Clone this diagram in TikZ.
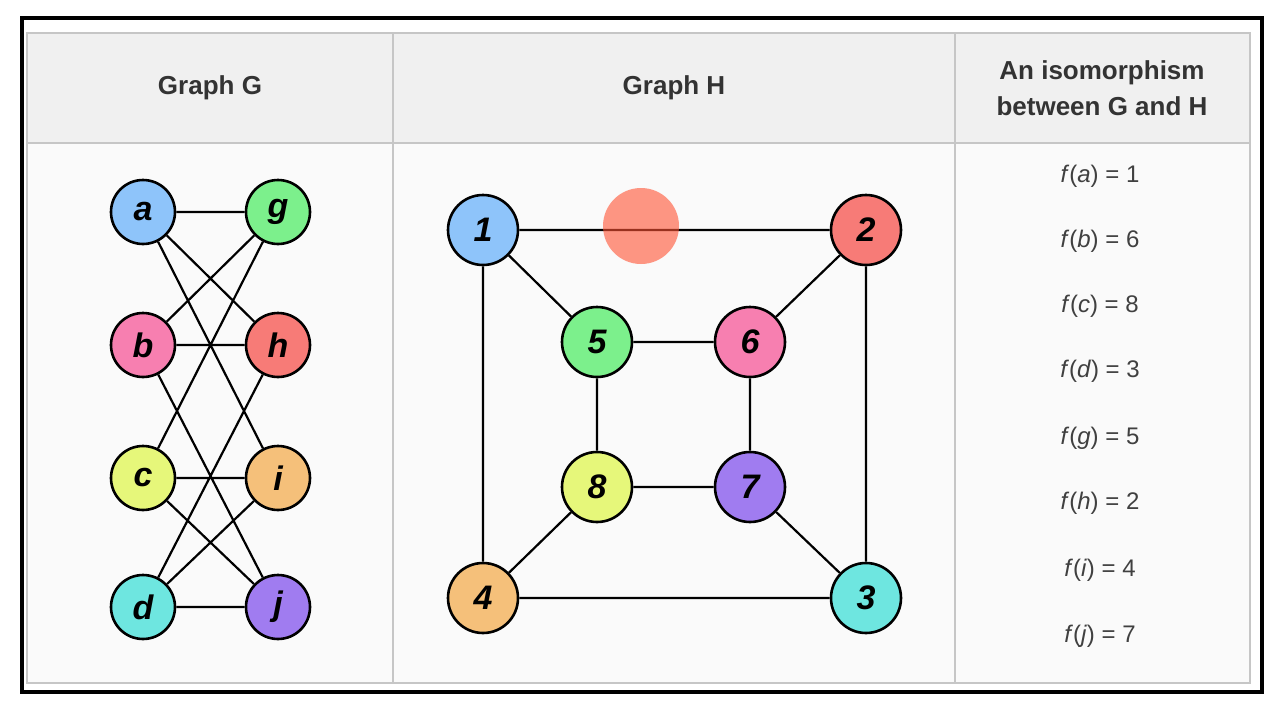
\documentclass[tikz,border=0pt]{standalone}
\usepackage{fontspec}
\setmainfont{Liberation Sans}
\begin{document}
\begin{tikzpicture}[x=1pt,y=-1pt,
  vx/.style={circle,draw=black,line width=2.6pt,minimum size=64pt,inner sep=0pt,font=\fontsize{34}{34}\selectfont\bfseries\itshape},
  hx/.style={vx,minimum size=70pt},
  ed/.style={line width=2.2pt},
  hd/.style={font=\fontsize{26}{36}\selectfont\bfseries,align=center,text=black!80},
  fl/.style={font=\fontsize{24}{24}\selectfont,text=black!75}]
\useasboundingbox (0,0) rectangle (1280,720);
\fill[white] (0,0) rectangle (1280,720);
\fill[gray!12] (27,33) rectangle (1250,143);
\fill[gray!4] (27,143) rectangle (1250,683);
\draw[gray!45,line width=1.2pt] (27,33) rectangle (1250,683);
\draw[gray!45,line width=1.2pt] (27,143) -- (1250,143) (393,33) -- (393,683) (955,33) -- (955,683);
\draw[line width=4pt] (22,18) rectangle (1262,692);
\node[hd] (hg) at (210,88) {Graph G};
\node[hd] (hh) at (674,88) {Graph H};
\node[hd] (hi) at (1102,88) {An isomorphism\\between G and H};
% Graph G
\node[vx,fill={rgb,255:red,142;green,196;blue,250}] (a) at (143,212) {a};
\node[vx,fill={rgb,255:red,124;green,240;blue,140}] (g) at (278,212) {g};
\node[vx,fill={rgb,255:red,247;green,127;blue,176}] (b) at (143,345) {b};
\node[vx,fill={rgb,255:red,247;green,123;blue,119}] (h) at (278,345) {h};
\node[vx,fill={rgb,255:red,230;green,247;blue,122}] (c) at (143,478) {c};
\node[vx,fill={rgb,255:red,245;green,192;blue,122}] (i) at (278,478) {i};
\node[vx,fill={rgb,255:red,110;green,230;blue,224}] (d) at (143,607) {d};
\node[vx,fill={rgb,255:red,160;green,124;blue,240}] (j) at (278,607) {j};
\draw[ed] (a)--(g) (a)--(h) (a)--(i) (b)--(g) (b)--(h) (b)--(j) (c)--(g) (c)--(i) (c)--(j) (d)--(h) (d)--(i) (d)--(j);
% Graph H
\node[hx,fill={rgb,255:red,142;green,196;blue,250}] (n1) at (483,230) {1};
\node[hx,fill={rgb,255:red,247;green,123;blue,119}] (n2) at (866,230) {2};
\node[hx,fill={rgb,255:red,124;green,240;blue,140}] (n5) at (597,342) {5};
\node[hx,fill={rgb,255:red,247;green,127;blue,176}] (n6) at (750,342) {6};
\node[hx,fill={rgb,255:red,230;green,247;blue,122}] (n8) at (597,487) {8};
\node[hx,fill={rgb,255:red,160;green,124;blue,240}] (n7) at (750,487) {7};
\node[hx,fill={rgb,255:red,245;green,192;blue,122}] (n4) at (483,598) {4};
\node[hx,fill={rgb,255:red,110;green,230;blue,224}] (n3) at (866,598) {3};
\draw[ed] (n1)--(n2) (n1)--(n4) (n1)--(n5) (n2)--(n6) (n2)--(n3) (n5)--(n6) (n5)--(n8) (n6)--(n7) (n7)--(n8) (n7)--(n3) (n8)--(n4) (n4)--(n3);
\fill[red!70!orange!80,opacity=0.6] (641,226) circle (38);
% mapping
\node[fl] (f1) at (1100,176) {\textit{f}(\textit{a}) = 1};
\node[fl] (f2) at (1100,241) {\textit{f}(\textit{b}) = 6};
\node[fl] (f3) at (1100,306) {\textit{f}(\textit{c}) = 8};
\node[fl] (f4) at (1100,371) {\textit{f}(\textit{d}) = 3};
\node[fl] (f5) at (1100,438) {\textit{f}(\textit{g}) = 5};
\node[fl] (f6) at (1100,503) {\textit{f}(\textit{h}) = 2};
\node[fl] (f7) at (1100,570) {\textit{f}(\textit{i}) = 4};
\node[fl] (f8) at (1100,636) {\textit{f}(\textit{j}) = 7};
\end{tikzpicture}
\end{document}
